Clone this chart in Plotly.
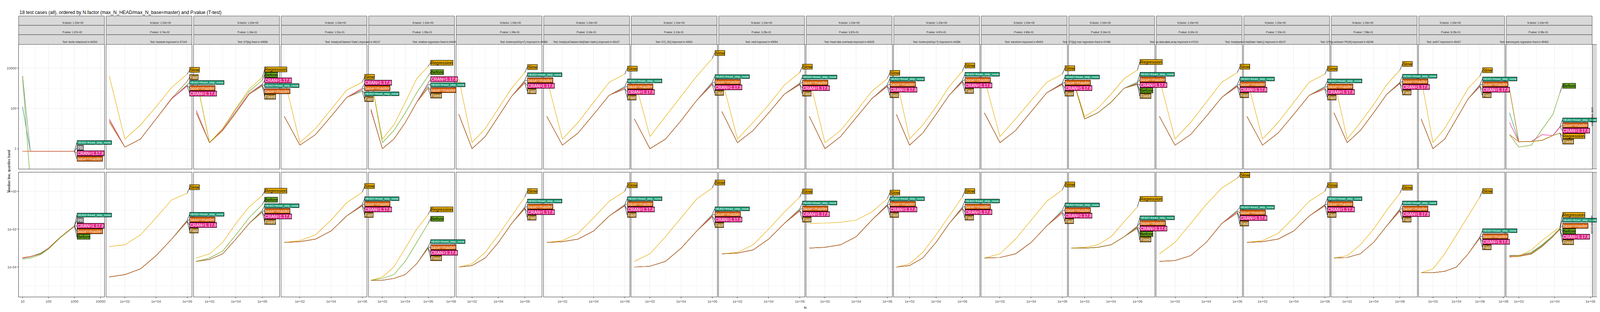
import math
import plotly.graph_objects as go

TITLE = "18 test cases (all), ordered by N.factor (max_N_HEAD/max_N_base=master) and P.value (T-test)"

tests = [
    "fwrite refactored in #6393", "isoweek improved in #7144", "DT[by] fixed in #4558",
    "fread(colClasses='Date') improved in #6107", "shallow regression fixed in #4440",
    "forderv(retGrp=F) improved in #4386", "fread(colClasses=list(Date='date')) improved in #6107",
    "DT[,.SD] improved in #4501", "melt improved in #5054", "fread disk overhead improved in #6925",
    "forderv(retGrp=T) improved in #4386", "transform improved in #5493",
    "DT[by] max regression fixed in #7480", "as.data.table.array improved in #7010",
    "fread(select=list(Date='date')) improved in #6107", "DT[by,verbose=TRUE] improved in #6296",
    "setDT improved in #5427", "memrecycle regression fixed in #5463",
]
pvalues = ["1.67e-02", "3.74e-02", "1.34e-01", "1.51e-01", "1.59e-01", "1.99e-01", "3.10e-01", "3.13e-01",
           "3.25e-01", "3.87e-01", "4.67e-01", "4.83e-01", "5.34e-01", "6.92e-01", "7.20e-01", "7.58e-01",
           "8.25e-01", "9.95e-01"]
nfactors = ["1.00e+00"] * 18

# N values per panel
n_values = [
    [10, 20, 50, 100, 300, 1000],
    [10, 100, 1e3, 1e4, 1e5, 1e6],
    [10, 100, 1e3, 1e4, 1e5, 1e6],
    [10, 100, 1e3, 1e4, 1e5, 1e6],
    [10, 100, 1e3, 1e4, 1e5, 1e6],
    [10, 100, 1e3, 1e4, 1e5, 1e6],
    [10, 100, 1e3, 1e4, 1e5, 1e6],
    [10, 100, 1e3, 1e4, 1e5, 1e6],
    [10, 100, 1e3, 1e4, 1e5, 1e6],
    [10, 100, 1e3, 1e4, 1e5, 1e6],
    [10, 100, 1e3, 1e4, 1e5, 1e6],
    [10, 100, 1e3, 1e4, 1e5, 1e6],
    [10, 100, 1e3, 1e4, 1e5, 1e6],
    [10, 100, 1e3, 1e4, 1e5, 1e6],
    [10, 100, 1e3, 1e4, 1e5, 1e6],
    [10, 100, 1e3, 1e4, 1e5, 1e6],
    [10, 100, 1e3, 1e4, 1e5, 1e6],
    [30, 100, 500, 2e3, 8e3, 2e4],
]
# log10 x range per panel
x_ranges = [[0.85, 4.15], [0.8, 6.3], [0.8, 7.3], [0.8, 6.3], [0.8, 8.3], [0.8, 7.3], [0.8, 6.3], [0.8, 6.3],
            [0.8, 6.3], [0.8, 6.3], [0.8, 7.3], [0.8, 6.3], [0.8, 7.3], [0.8, 6.3], [0.8, 6.3], [0.8, 7.3],
            [0.8, 8.1], [1.3, 6.1]]

kb_values = [
    {"HEAD": [120, 0.75, 0.75, 0.75, 0.75, 0.75], "PR": [4000, 0.75, 0.75, 0.75, 0.75, 0.75],
     "CRAN": [0.75, 0.75, 0.75, 0.75, 0.75, 0.75], "base": [0.75, 0.75, 0.75, 0.75, 0.75, 0.75],
     "Before": [4000, 0.02, 0.02, 0.02, 0.02, 0.05]},
    {"HEAD": [25, 1.2, 3, 30, 300, 1500], "base": [25, 1.2, 3, 30, 300, 1400], "CRAN": [30, 1.2, 3, 30, 300, 1300],
     "Slow": [4000, 3, 15, 120, 1100, 5000], "Fast": [20, 1.2, 3, 30, 320, 2200]},
    {"HEAD": [60, 2, 8, 60, 500, 1500], "base": [60, 2, 8, 60, 500, 1400], "CRAN": [80, 2, 9, 70, 550, 1600],
     "Before": [3000, 2, 10, 90, 700, 2500], "Regression": [3000, 2, 10, 100, 900, 3500], "Fixed": [60, 2, 8, 60, 500, 1300]},
    {"HEAD": [40, 1.5, 5, 40, 350, 800], "base": [40, 1.5, 5, 40, 350, 900], "CRAN": [40, 1.5, 5, 40, 350, 1000],
     "Slow": [3000, 2, 10, 90, 800, 2000], "Fast": [40, 1.5, 5, 40, 350, 700]},
    {"HEAD": [80, 1, 3, 20, 200, 1500], "base": [80, 1, 3, 20, 200, 1200], "CRAN": [90, 1, 3, 20, 200, 1800],
     "Before": [3000, 2, 8, 60, 600, 4000], "Regression": [3000, 3, 15, 200, 3000, 12000], "Fixed": [80, 1, 3, 20, 200, 1000]},
    {"HEAD": [50, 1, 4, 40, 400, 2500], "base": [50, 1, 4, 40, 400, 2300], "CRAN": [50, 1, 4, 40, 400, 2000],
     "Slow": [3000, 2, 10, 100, 1000, 6000], "Fast": [50, 1, 4, 40, 400, 1800]},
    {"HEAD": [40, 1.5, 6, 50, 450, 1200], "base": [40, 1.5, 6, 50, 450, 1100], "CRAN": [40, 1.5, 6, 50, 450, 1000],
     "Slow": [3000, 3, 20, 200, 2000, 5000], "Fast": [40, 1.5, 6, 50, 450, 900]},
    {"HEAD": [30, 1, 3, 25, 250, 2000], "base": [30, 1, 3, 25, 250, 1800], "CRAN": [30, 1, 3, 25, 250, 1700],
     "Slow": [3000, 4, 40, 400, 4000, 30000], "Fast": [30, 1, 3, 25, 250, 1500]},
    {"HEAD": [70, 2, 8, 60, 500, 1800], "base": [70, 2, 8, 60, 500, 1700], "CRAN": [70, 2, 8, 60, 500, 1600],
     "Slow": [3000, 3, 20, 150, 1400, 6000], "Fast": [70, 2, 8, 60, 500, 1500]},
    {"HEAD": [40, 1, 4, 35, 300, 1500], "base": [40, 1, 4, 35, 300, 1400], "CRAN": [40, 1, 4, 35, 300, 1300],
     "Slow": [3000, 2, 8, 70, 700, 3000], "Fast": [40, 1, 4, 35, 300, 1200]},
    {"HEAD": [50, 1.5, 6, 50, 450, 2500], "base": [50, 1.5, 6, 50, 450, 2300], "CRAN": [50, 1.5, 6, 50, 450, 2200],
     "Slow": [3000, 3, 15, 120, 1200, 7000], "Fast": [50, 1.5, 6, 50, 450, 2000]},
    {"HEAD": [60, 2, 8, 70, 600, 1800], "base": [60, 2, 8, 70, 600, 1700], "CRAN": [60, 2, 8, 70, 600, 1600],
     "Slow": [3000, 4, 30, 250, 2000, 5000], "Fast": [60, 2, 8, 70, 600, 1500]},
    {"HEAD": [5000, 30, 60, 200, 1000, 2000], "base": [5000, 30, 60, 200, 1000, 1800], "CRAN": [5000, 30, 60, 200, 1000, 1700],
     "Before": [5000, 30, 60, 200, 1000, 1600], "Regression": [5000, 40, 100, 500, 3000, 8000], "Fixed": [5000, 30, 60, 200, 1000, 1500]},
    {"HEAD": [40, 1.5, 5, 40, 350, 1500], "base": [40, 1.5, 5, 40, 350, 1400], "CRAN": [40, 1.5, 5, 40, 350, 1300],
     "Slow": [3000, 3, 20, 200, 2000, 6000], "Fast": [40, 1.5, 5, 40, 350, 1200]},
    {"HEAD": [40, 1.5, 6, 50, 450, 1200], "base": [40, 1.5, 6, 50, 450, 1100], "CRAN": [40, 1.5, 6, 50, 450, 1000],
     "Slow": [3000, 3, 20, 200, 2000, 5000], "Fast": [40, 1.5, 6, 50, 450, 900]},
    {"HEAD": [60, 2, 8, 60, 500, 2000], "base": [60, 2, 8, 60, 500, 1900], "CRAN": [60, 2, 8, 60, 500, 1800],
     "Slow": [3000, 3, 20, 150, 1500, 8000], "Fast": [60, 2, 8, 60, 500, 1700]},
    {"HEAD": [30, 1, 3, 30, 300, 1500], "base": [30, 1, 3, 30, 300, 1400], "CRAN": [30, 1, 3, 30, 300, 1300],
     "Slow": [3000, 2, 10, 100, 1000, 4000], "Fast": [30, 1, 3, 30, 300, 1200]},
    {"HEAD": [60, 2.2, 2.3, 2.6, 4.5, 12], "base": [5, 2.2, 2.3, 2.6, 4.5, 12], "CRAN": [20, 2.2, 2.3, 5, 4.5, 12],
     "Before": [5, 1.2, 1.5, 9, 50, 600], "Regression": [900, 2.2, 2.3, 2.6, 4.5, 6], "Fixed": [900, 2.2, 2.3, 2.6, 4.5, 6]},
]

sec_values = [
    {"HEAD": [3e-4, 3.5e-4, 5.5e-4, 1e-3, 4e-3, 1.5e-2], "PR": [3e-4, 3.5e-4, 5e-4, 1e-3, 4e-3, 1.5e-2],
     "CRAN": [3e-4, 3.6e-4, 5e-4, 1e-3, 4e-3, 1.5e-2], "base": [3.2e-4, 3.6e-4, 5e-4, 1e-3, 4e-3, 1.5e-2],
     "Before": [2.6e-4, 3e-4, 4.5e-4, 9e-4, 3.8e-3, 1.4e-2]},
    {"HEAD": [3e-5, 4e-5, 8e-5, 4e-4, 3e-3, 3e-2], "base": [3e-5, 4e-5, 8e-5, 4e-4, 3e-3, 2.8e-2],
     "CRAN": [3e-5, 4e-5, 8e-5, 4e-4, 3e-3, 2.6e-2], "Slow": [1.2e-3, 1.5e-3, 5e-3, 4e-2, 0.35, 0.8],
     "Fast": [3e-5, 4e-5, 8e-5, 4e-4, 3e-3, 2.5e-2]},
    {"HEAD": [2e-4, 2.5e-4, 5e-4, 3e-3, 2e-2, 0.1], "base": [2e-4, 2.5e-4, 5e-4, 3e-3, 2e-2, 0.09],
     "CRAN": [2e-4, 2.5e-4, 5e-4, 3e-3, 2e-2, 0.08], "Before": [2e-4, 3e-4, 7e-4, 5e-3, 4e-2, 0.2],
     "Regression": [3e-4, 5e-4, 2e-3, 2e-2, 0.15, 0.6], "Fixed": [2e-4, 2.5e-4, 5e-4, 3e-3, 2e-2, 0.08]},
    {"HEAD": [2e-3, 2.2e-3, 3e-3, 8e-3, 5e-2, 0.2], "base": [2e-3, 2.2e-3, 3e-3, 8e-3, 5e-2, 0.19],
     "CRAN": [2e-3, 2.2e-3, 3e-3, 8e-3, 5e-2, 0.18], "Slow": [2e-3, 2.5e-3, 5e-3, 3e-2, 0.25, 0.9],
     "Fast": [2e-3, 2.2e-3, 3e-3, 8e-3, 5e-2, 0.17]},
    {"HEAD": [2e-5, 2e-5, 2.5e-5, 4e-5, 1.5e-4, 1.2e-3], "base": [2e-5, 2e-5, 2.5e-5, 4e-5, 1.5e-4, 1.1e-3],
     "CRAN": [2e-5, 2e-5, 2.5e-5, 4e-5, 1.5e-4, 1e-3], "Before": [2e-5, 2.5e-5, 4e-5, 2e-4, 2e-3, 2e-2],
     "Regression": [2e-5, 3e-5, 1e-4, 1e-3, 1e-2, 6e-2], "Fixed": [2e-5, 2e-5, 2.5e-5, 4e-5, 1.5e-4, 1e-3]},
    {"HEAD": [1e-4, 1.2e-4, 3e-4, 2e-3, 2e-2, 0.15], "base": [1e-4, 1.2e-4, 3e-4, 2e-3, 2e-2, 0.14],
     "CRAN": [1e-4, 1.2e-4, 3e-4, 2e-3, 2e-2, 0.13], "Slow": [1e-4, 1.5e-4, 6e-4, 5e-3, 5e-2, 0.5],
     "Fast": [1e-4, 1.2e-4, 3e-4, 2e-3, 2e-2, 0.12]},
    {"HEAD": [2e-3, 2.2e-3, 3e-3, 8e-3, 5e-2, 0.2], "base": [2e-3, 2.2e-3, 3e-3, 8e-3, 5e-2, 0.19],
     "CRAN": [2e-3, 2.2e-3, 3e-3, 8e-3, 5e-2, 0.18], "Slow": [2e-3, 2.5e-3, 6e-3, 4e-2, 0.3, 1.0],
     "Fast": [2e-3, 2.2e-3, 3e-3, 8e-3, 5e-2, 0.17]},
    {"HEAD": [1e-4, 1.1e-4, 2e-4, 1e-3, 8e-3, 6e-2], "base": [1e-4, 1.1e-4, 2e-4, 1e-3, 8e-3, 5.5e-2],
     "CRAN": [1e-4, 1.1e-4, 2e-4, 1e-3, 8e-3, 5e-2], "Slow": [2e-4, 5e-4, 4e-3, 4e-2, 0.4, 1.5],
     "Fast": [1e-4, 1.1e-4, 2e-4, 1e-3, 8e-3, 4.5e-2]},
    {"HEAD": [5e-4, 5.5e-4, 8e-4, 3e-3, 2e-2, 0.12], "base": [5e-4, 5.5e-4, 8e-4, 3e-3, 2e-2, 0.11],
     "CRAN": [5e-4, 5.5e-4, 8e-4, 3e-3, 2e-2, 0.1], "Slow": [5e-4, 6e-4, 1.5e-3, 1e-2, 8e-2, 0.5],
     "Fast": [5e-4, 5.5e-4, 8e-4, 3e-3, 2e-2, 0.09]},
    {"HEAD": [1e-3, 1.1e-3, 1.5e-3, 4e-3, 3e-2, 0.2], "base": [1e-3, 1.1e-3, 1.5e-3, 4e-3, 3e-2, 0.19],
     "CRAN": [1e-3, 1.1e-3, 1.5e-3, 4e-3, 3e-2, 0.18], "Slow": [2e-2, 2.1e-2, 2.3e-2, 3e-2, 8e-2, 0.4],
     "Fast": [1e-3, 1.1e-3, 1.5e-3, 4e-3, 3e-2, 0.17]},
    {"HEAD": [1e-4, 1.2e-4, 3e-4, 2e-3, 2e-2, 0.15], "base": [1e-4, 1.2e-4, 3e-4, 2e-3, 2e-2, 0.14],
     "CRAN": [1e-4, 1.2e-4, 3e-4, 2e-3, 2e-2, 0.13], "Slow": [1e-4, 1.5e-4, 6e-4, 5e-3, 5e-2, 0.5],
     "Fast": [1e-4, 1.2e-4, 3e-4, 2e-3, 2e-2, 0.12]},
    {"HEAD": [3e-4, 3.2e-4, 5e-4, 2e-3, 1.5e-2, 0.1], "base": [3e-4, 3.2e-4, 5e-4, 2e-3, 1.5e-2, 0.09],
     "CRAN": [3e-4, 3.2e-4, 5e-4, 2e-3, 1.5e-2, 0.08], "Slow": [3e-4, 5e-4, 3e-3, 3e-2, 0.3, 1.2],
     "Fast": [3e-4, 3.2e-4, 5e-4, 2e-3, 1.5e-2, 0.07]},
    {"HEAD": [1e-3, 1e-3, 1.1e-3, 1.5e-3, 4e-3, 1.5e-2], "base": [1e-3, 1e-3, 1.1e-3, 1.5e-3, 4e-3, 1.4e-2],
     "CRAN": [1e-3, 1e-3, 1.1e-3, 1.5e-3, 4e-3, 1.3e-2], "Before": [1e-3, 1e-3, 1.1e-3, 1.5e-3, 4e-3, 1.2e-2],
     "Regression": [1e-3, 1.1e-3, 1.5e-3, 4e-3, 2.5e-2, 0.15], "Fixed": [1e-3, 1e-3, 1.1e-3, 1.5e-3, 4e-3, 1.1e-2]},
    {"HEAD": [2e-4, 2.2e-4, 4e-4, 2e-3, 2e-2, 0.1], "base": [2e-4, 2.2e-4, 4e-4, 2e-3, 2e-2, 0.09],
     "CRAN": [2e-4, 2.2e-4, 4e-4, 2e-3, 2e-2, 0.08], "Slow": [5e-4, 2e-3, 2e-2, 0.2, 1.5, 5],
     "Fast": [2e-4, 2.2e-4, 4e-4, 2e-3, 2e-2, 0.07]},
    {"HEAD": [2e-3, 2.2e-3, 3e-3, 8e-3, 5e-2, 0.2], "base": [2e-3, 2.2e-3, 3e-3, 8e-3, 5e-2, 0.19],
     "CRAN": [2e-3, 2.2e-3, 3e-3, 8e-3, 5e-2, 0.18], "Slow": [2e-3, 2.5e-3, 6e-3, 4e-2, 0.3, 1.0],
     "Fast": [2e-3, 2.2e-3, 3e-3, 8e-3, 5e-2, 0.17]},
    {"HEAD": [3e-4, 3.2e-4, 5e-4, 2e-3, 1.5e-2, 0.12], "base": [3e-4, 3.2e-4, 5e-4, 2e-3, 1.5e-2, 0.11],
     "CRAN": [3e-4, 3.2e-4, 5e-4, 2e-3, 1.5e-2, 0.1], "Slow": [3e-4, 4e-4, 1.5e-3, 1e-2, 0.1, 0.8],
     "Fast": [3e-4, 3.2e-4, 5e-4, 2e-3, 1.5e-2, 0.09]},
    {"HEAD": [5e-5, 5e-5, 6e-5, 1e-4, 5e-4, 4e-3], "base": [5e-5, 5e-5, 6e-5, 1e-4, 5e-4, 3.8e-3],
     "CRAN": [5e-5, 5e-5, 6e-5, 1e-4, 5e-4, 3.6e-3], "Slow": [5e-5, 8e-5, 5e-4, 5e-3, 5e-2, 0.5],
     "Fast": [5e-5, 5e-5, 6e-5, 1e-4, 5e-4, 3.4e-3]},
    {"HEAD": [4.2e-4, 4.2e-4, 6e-4, 1.5e-3, 4.5e-3, 1.1e-2], "base": [4e-4, 4.1e-4, 5.5e-4, 1.4e-3, 4.5e-3, 1.1e-2],
     "CRAN": [3.6e-4, 3.8e-4, 5e-4, 1.2e-3, 4e-3, 1e-2], "Before": [3.4e-4, 3.6e-4, 5e-4, 1.3e-3, 4.5e-3, 1.1e-2],
     "Regression": [3.4e-4, 3.8e-4, 8e-4, 2.5e-3, 7e-3, 1.3e-2], "Fixed": [3.4e-4, 3.6e-4, 4.8e-4, 1.2e-3, 4e-3, 1e-2]},
]

colors = {"HEAD": "#1B9E77", "base": "#D95F02", "CRAN": "#E7298A", "Before": "#66A61E", "Regression": "#E6AB02",
          "Fixed": "#A6761D", "Slow": "#E6AB02", "Fast": "#A6761D", "PR": "#808080"}
label_text = {"HEAD": "HEAD=fread_skip_none", "base": "base=master", "CRAN": "CRAN=1.17.8"}
dark_text = {"Before", "Regression", "Slow"}

W, H = 7200, 800
PX0, PX1 = 70, 7168
PW = 387
GAP = (PX1 - PX0 - 18 * PW) / 17
rows = [dict(top=106, bot=425, yr=[-1.0, 5.17], unit="unit: kilobytes"),
        dict(top=434, bot=753, yr=[-5.57, 1.0], unit="unit: seconds")]
FONT = "Liberation Sans"

fig = go.Figure()
layout = dict(autosize=True, margin=dict(l=0, r=0, t=0, b=0, pad=0), plot_bgcolor="white", paper_bgcolor="white",
              showlegend=False, font=dict(family=FONT, color="#4d4d4d"))
annotations, shapes = [], []


def fy(px):
    return 1 - px / H


def fx(px):
    return px / W


def fmt_e(e):
    return "1e%+03d" % e


for p in range(18):
    x0 = PX0 + p * (PW + GAP)
    xr = x_ranges[p]
    if p == 0:
        xt = [10, 100, 1000, 10000]
        xtt = ["10", "100", "1000", "10000"]
        xminor = dict(showgrid=True, gridcolor="#f3f3f3", tickvals=[10 ** 1.5, 10 ** 2.5, 10 ** 3.5])
    else:
        es = [e for e in range(0, 10, 2) if xr[0] <= e <= xr[1]]
        xt = [10 ** e for e in es]
        xtt = [fmt_e(e) for e in es]
        xminor = dict(showgrid=True, gridcolor="#f3f3f3", tickvals=[10 ** e for e in range(1, 10, 2)])
    for r, row in enumerate(rows):
        k = p * 2 + r + 1
        xa, ya = "xaxis%d" % k, "yaxis%d" % k
        xs, ys = "x%d" % k, "y%d" % k
        layout[xa] = dict(type="log", range=xr, domain=[fx(x0), fx(x0 + PW)], anchor=ys,
                          tickvals=xt, ticktext=xtt, showticklabels=(r == 1), ticks="outside" if r == 1 else "",
                          ticklen=3, tickcolor="#333", tickfont=dict(size=9, color="#4d4d4d"),
                          gridcolor="#ebebeb", gridwidth=1.2, showline=True, linecolor="#333", mirror=True,
                          zeroline=False, minor=xminor)
        if r == 0:
            yv, ytt = [1, 100, 10000], ["1", "100", "10000"]
            ymin = [0.1, 10, 1000, 1e5]
        else:
            yv, ytt = [1, 1e-2, 1e-4], ["1e+00", "1e-02", "1e-04"]
            ymin = [10, 0.1, 1e-3, 1e-5]
        layout[ya] = dict(type="log", range=row["yr"], domain=[fy(row["bot"]), fy(row["top"])], anchor=xs,
                          tickvals=yv, ticktext=ytt, showticklabels=(p == 0), ticks="outside" if p == 0 else "",
                          ticklen=3, tickcolor="#333", tickfont=dict(size=9, color="#4d4d4d"),
                          gridcolor="#ebebeb", gridwidth=1.2, showline=True, linecolor="#333", mirror=True,
                          zeroline=False, minor=dict(showgrid=True, gridcolor="#f3f3f3", tickvals=ymin))
        if r == 1:
            shapes.append(dict(type="line", xref="%s domain" % xs, yref=ys, x0=0, x1=1, y0=0.01, y1=0.01,
                               line=dict(color="#b3b3b3", width=1.2), layer="below"))
        data = kb_values[p] if r == 0 else sec_values[p]
        ns = n_values[p]
        pxdec = (row["bot"] - row["top"]) / (row["yr"][1] - row["yr"][0])
        labs = []
        for name, vals in data.items():
            fig.add_trace(go.Scatter(x=ns[:len(vals)], y=vals, mode="lines", xaxis=xs, yaxis=ys,
                                     line=dict(color=colors[name], width=1.2), hoverinfo="skip"))
            ly = math.log10(vals[-1])
            py = row["top"] + (row["yr"][1] - ly) * pxdec
            labs.append([py, name, ns[len(vals) - 1], vals[-1]])
        # spread labels vertically so boxes do not overlap
        labs.sort(key=lambda a: a[0])
        h = 14
        orig = [a[0] for a in labs]
        pos = list(orig)
        for i in range(1, len(pos)):
            pos[i] = max(pos[i], pos[i - 1] + h)
        shift = sum(orig) / len(orig) - sum(pos) / len(pos)
        pos = [v + shift for v in pos]
        over = pos[-1] + h / 2 - row["bot"]
        if over > 0:
            pos = [v - over for v in pos]
        under = row["top"] - (pos[0] - h / 2)
        if under > 0:
            pos = [v + under for v in pos]
        for (py, name, lx, lv), npos in zip(labs, pos):
            annotations.append(dict(x=math.log10(lx), y=math.log10(lv), xref=xs, yref=ys,
                                    text=label_text.get(name, name), showarrow=True, arrowhead=0, arrowwidth=1,
                                    arrowcolor="#000", ax=6, ay=npos - py, xanchor="left",
                                    bgcolor=colors[name], bordercolor="#000", borderwidth=1, borderpad=0,
                                    font=dict(family=FONT, size=8 if name == "HEAD" else 11,
                                              color="#000" if name in dark_text else "#fff")))
    # strips above each column
    strip_txt = ["N.factor: " + nfactors[p], "P.value: " + pvalues[p], "Test: " + tests[p]]
    for i, (t0, t1) in enumerate([(33, 57), (57, 81), (81, 106)]):
        shapes.append(dict(type="rect", xref="paper", yref="paper", x0=fx(x0), x1=fx(x0 + PW), y0=fy(t1), y1=fy(t0),
                           fillcolor="#d9d9d9", line=dict(color="#4d4d4d", width=1)))
        annotations.append(dict(x=fx(x0 + PW / 2), y=fy((t0 + t1) / 2), xref="paper", yref="paper",
                                text=strip_txt[i], showarrow=False, font=dict(size=6.5, color="#1a1a1a")))

# unit strips on the right
for row in rows:
    shapes.append(dict(type="rect", xref="paper", yref="paper", x0=fx(7169), x1=fx(7192), y0=fy(row["bot"]),
                       y1=fy(row["top"]), fillcolor="#d9d9d9", line=dict(color="#4d4d4d", width=1)))
    annotations.append(dict(x=fx(7180.5), y=fy((row["top"] + row["bot"]) / 2), xref="paper", yref="paper",
                            text=row["unit"], textangle=90, showarrow=False, font=dict(size=8, color="#1a1a1a")))

annotations.append(dict(x=fx(70), y=fy(15), xref="paper", yref="paper", text=TITLE, showarrow=False,
                        xanchor="left", font=dict(size=12, color="#000")))
annotations.append(dict(x=fx(14), y=fy(430), xref="paper", yref="paper", text="median line, quartiles band",
                        textangle=-90, showarrow=False, font=dict(size=9, color="#000")))
annotations.append(dict(x=fx((PX0 + PX1) / 2), y=fy(788), xref="paper", yref="paper", text="N",
                        showarrow=False, font=dict(size=9, color="#000")))

layout["annotations"] = annotations
layout["shapes"] = shapes
fig.update_layout(**layout)
fig.write_html("out.html", default_width="100vw", default_height="100vh")
